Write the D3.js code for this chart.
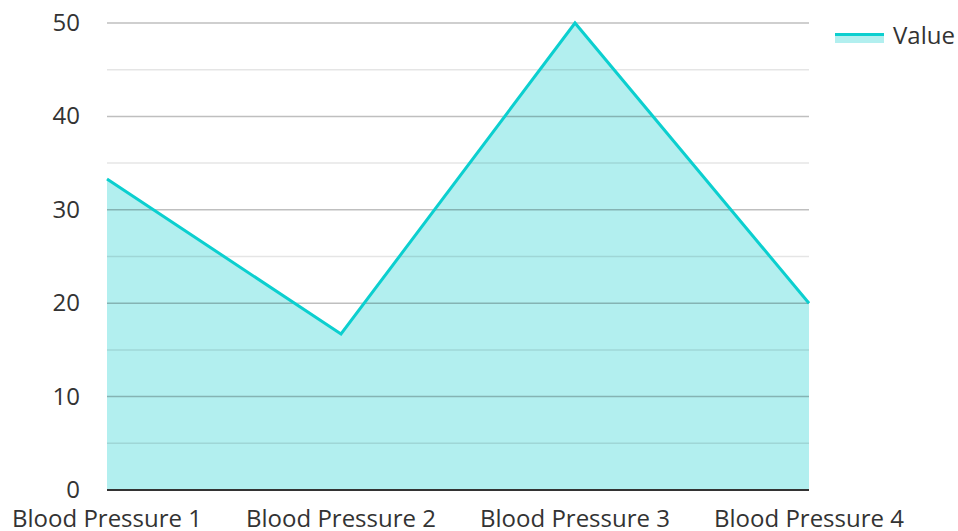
<!DOCTYPE html>
<html>
<head>
<meta charset="utf-8">
<script src="https://cdn.jsdelivr.net/npm/d3@7"></script>
<style>
  body { margin: 0; background: #fff; }
  svg { display: block; font-family: "Open Sans", sans-serif; }
</style>
</head>
<body>
<svg width="958" height="531"></svg>
<script>
var categories = ['Blood Pressure 1', 'Blood Pressure 2', 'Blood Pressure 3', 'Blood Pressure 4'];
var values = [33.3, 16.7, 50, 20];
var yTicks = [0, 10, 20, 30, 40, 50];
var minorTicks = [5, 15, 25, 35, 45];
var seriesName = 'Value';

var plotLeft = 107, plotRight = 809, plotTop = 23, plotBottom = 490;
var svg = d3.select('svg');

var xScale = d3.scalePoint()
    .domain(categories)
    .range([plotLeft, plotRight]);
var yScale = d3.scaleLinear()
    .domain([0, 50])
    .range([plotBottom, plotTop]);

// area first, grid drawn over it
var area = d3.area()
    .x((d, i) => xScale(categories[i]))
    .y0(yScale(0))
    .y1(d => yScale(d));
svg.append('path')
    .datum(values)
    .attr('d', area)
    .attr('fill', '#b2efef');

svg.append('g').selectAll('line')
    .data(minorTicks)
    .enter().append('line')
    .attr('x1', plotLeft).attr('x2', plotRight)
    .attr('y1', d => yScale(d)).attr('y2', d => yScale(d))
    .attr('stroke', 'rgba(0,0,0,0.1)')
    .attr('stroke-width', 1.5);

svg.append('g').selectAll('line')
    .data(yTicks.filter(d => d > 0))
    .enter().append('line')
    .attr('x1', plotLeft).attr('x2', plotRight)
    .attr('y1', d => yScale(d)).attr('y2', d => yScale(d))
    .attr('stroke', 'rgba(0,0,0,0.25)')
    .attr('stroke-width', 1.5);

var line = d3.line()
    .x((d, i) => xScale(categories[i]))
    .y(d => yScale(d));
svg.append('path')
    .datum(values)
    .attr('d', line)
    .attr('fill', 'none')
    .attr('stroke', '#0ccfcf')
    .attr('stroke-width', 3)
    .attr('stroke-linejoin', 'miter');

// baseline
svg.append('line')
    .attr('x1', plotLeft).attr('x2', plotRight)
    .attr('y1', yScale(0)).attr('y2', yScale(0))
    .attr('stroke', '#333')
    .attr('stroke-width', 2);

// y labels
svg.append('g').selectAll('text')
    .data(yTicks)
    .enter().append('text')
    .attr('x', 80)
    .attr('y', d => yScale(d) + 8)
    .attr('text-anchor', 'end')
    .attr('font-size', 24)
    .attr('fill', '#333')
    .text(d => d);

// x labels
svg.append('g').selectAll('text')
    .data(categories)
    .enter().append('text')
    .attr('x', d => xScale(d))
    .attr('y', 527)
    .attr('text-anchor', 'middle')
    .attr('font-size', 24)
    .attr('fill', '#333')
    .text(d => d);

// legend
var lg = svg.append('g').attr('transform', 'translate(835,33)');
lg.append('rect')
    .attr('x', 0).attr('y', 0)
    .attr('width', 49).attr('height', 10)
    .attr('fill', '#b2efef');
lg.append('line')
    .attr('x1', 0).attr('x2', 49)
    .attr('y1', 1.5).attr('y2', 1.5)
    .attr('stroke', '#0ccfcf')
    .attr('stroke-width', 3);
lg.append('text')
    .attr('x', 58)
    .attr('y', 11)
    .attr('font-size', 24)
    .attr('fill', '#333')
    .text(seriesName);
</script>
</body>
</html>
